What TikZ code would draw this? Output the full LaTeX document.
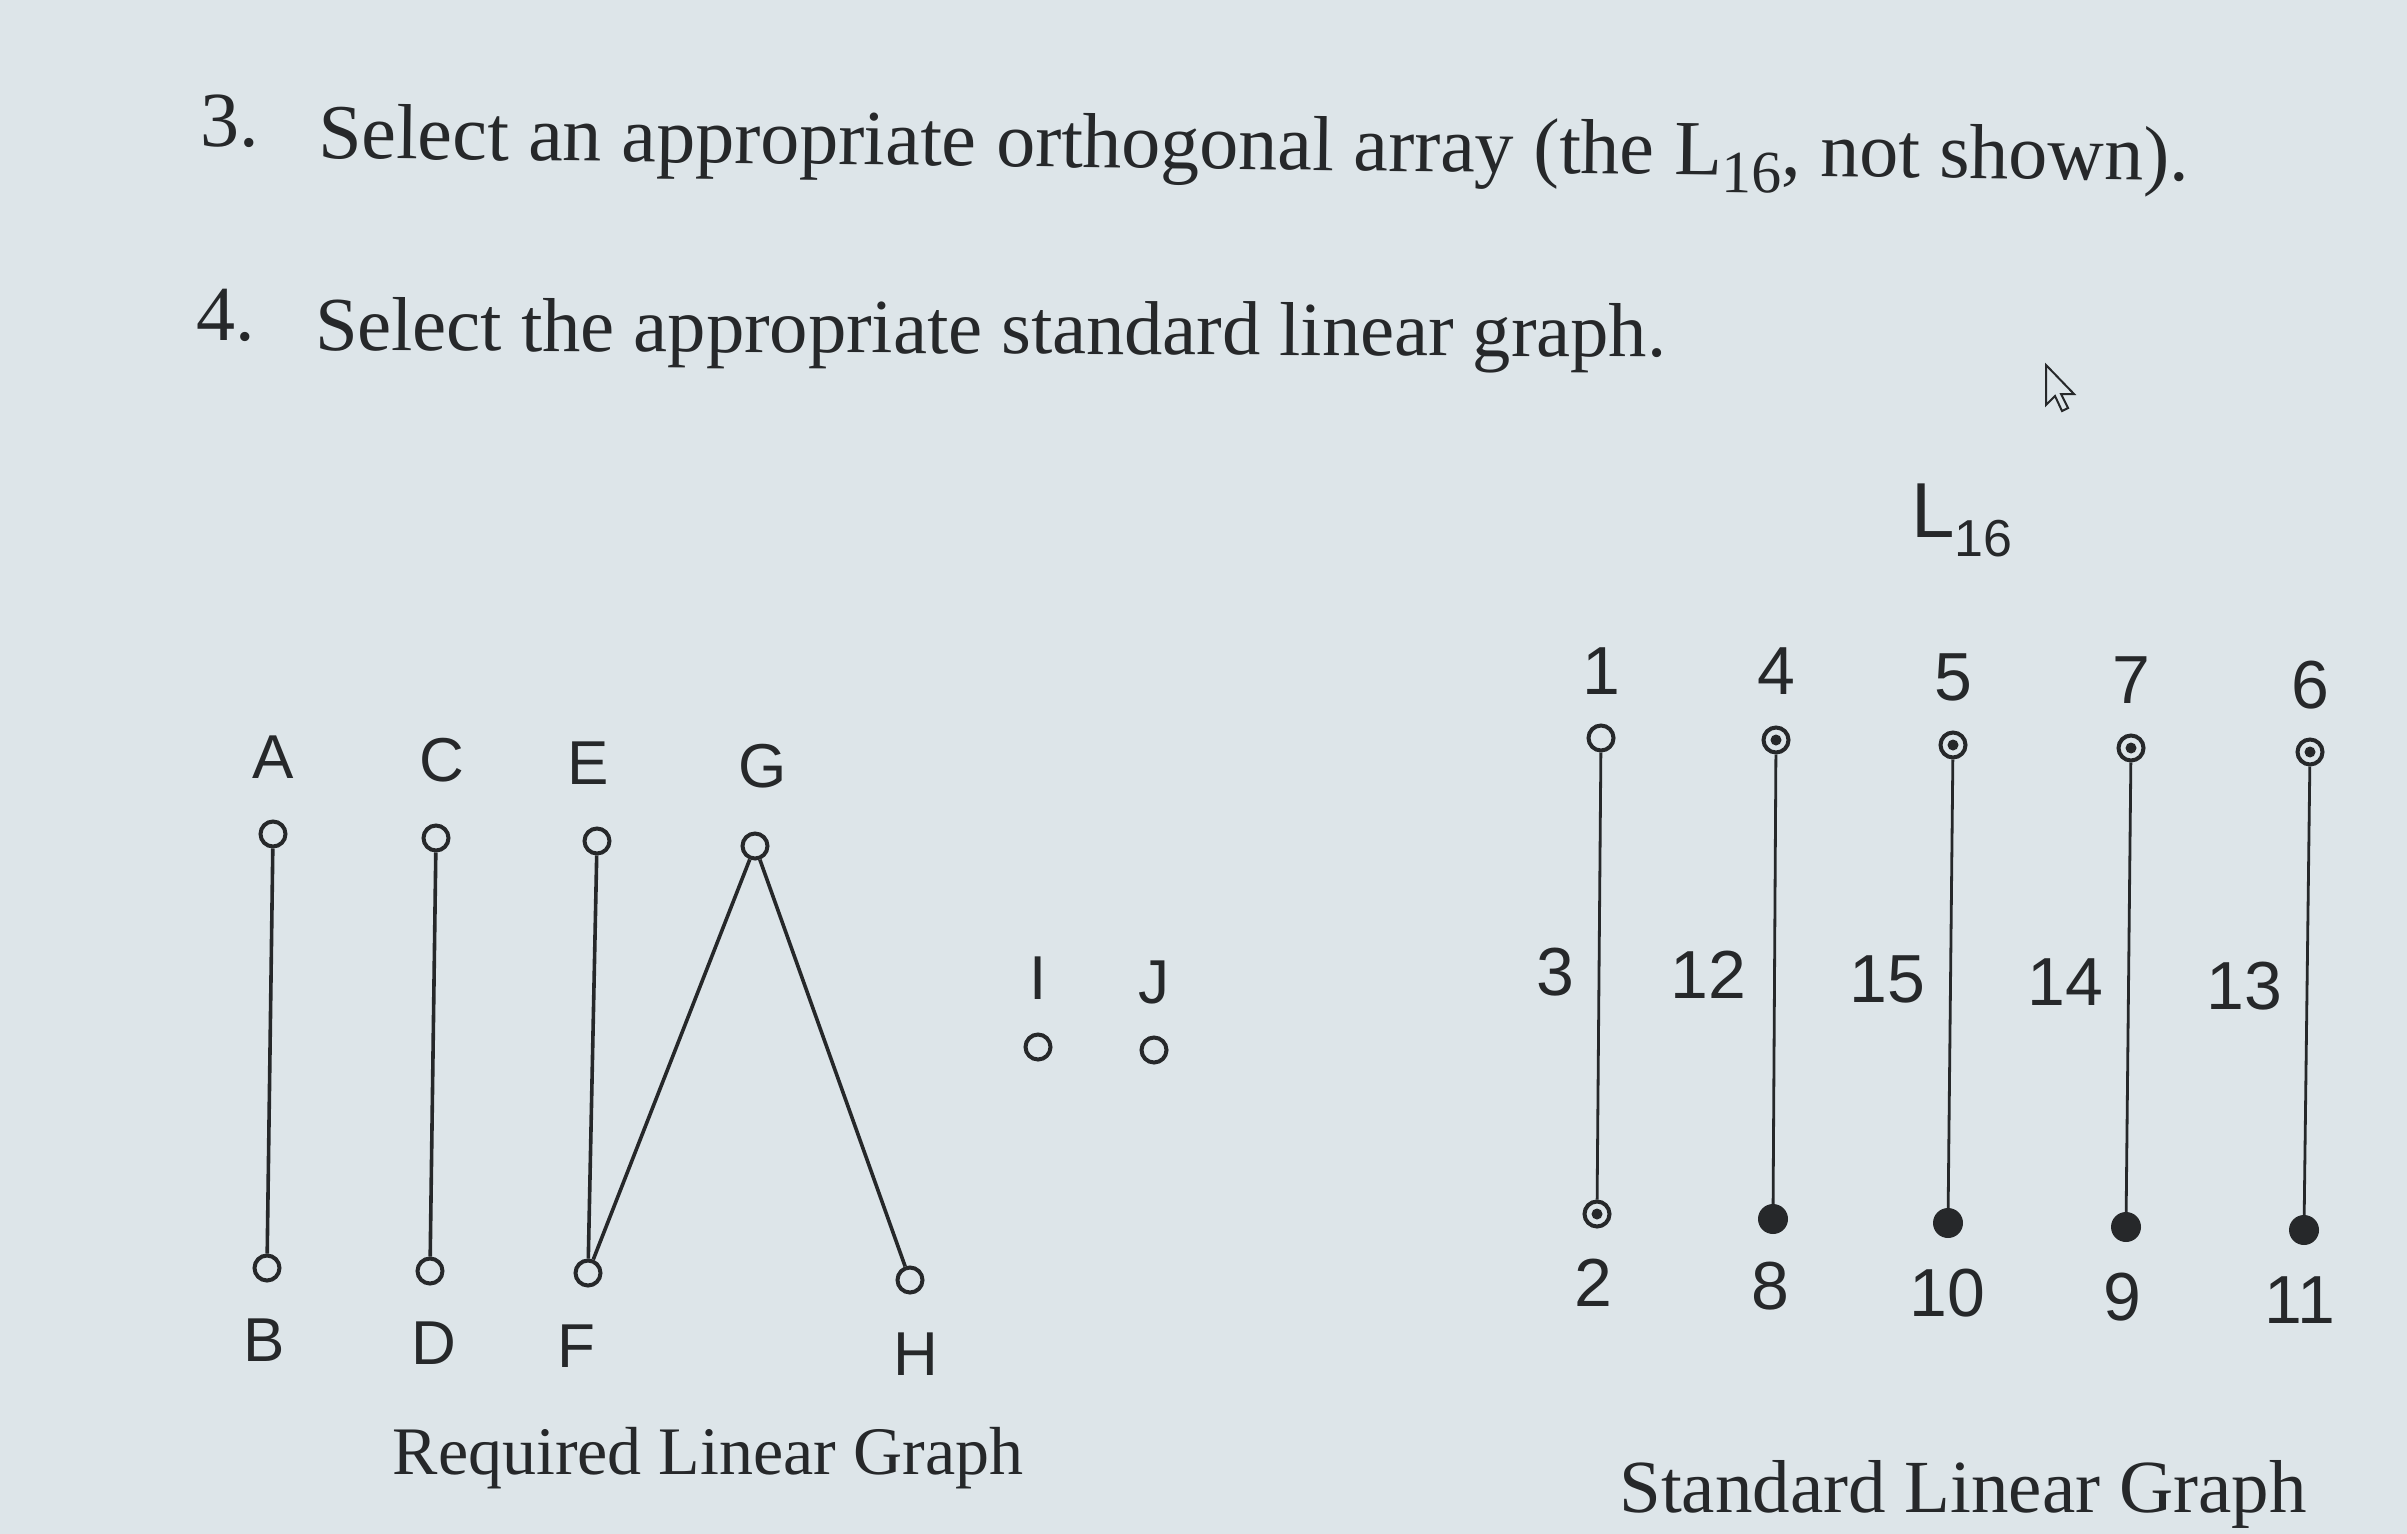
\documentclass[tikz,border=0pt]{standalone}
\usepackage{fontspec}
\setmainfont{Liberation Serif}
\newfontfamily\lsans{Liberation Sans}
\definecolor{bg}{RGB}{221,229,233}
\definecolor{ink}{RGB}{38,40,42}
\begin{document}
\begin{tikzpicture}[x=1pt,y=-1pt,
  headtxt/.style={font=\fontsize{78}{90}\selectfont, text=ink, inner sep=0, anchor=base west},
  captxt/.style={font=\fontsize{68}{80}\selectfont, text=ink, inner sep=0, anchor=base},
  letter/.style={font=\lsans\fontsize{62}{62}\selectfont, text=ink, inner sep=0},
  numtxt/.style={font=\lsans\fontsize{68}{68}\selectfont, text=ink, inner sep=0},
  opn/.style={circle, draw=ink, line width=4pt, fill=bg, minimum size=25pt, inner sep=0},
  dotn/.style={opn, path picture={\fill[ink] (path picture bounding box.center) circle (5.5pt);}},
  filledn/.style={circle, fill=ink, minimum size=30pt, inner sep=0},
  lnk/.style={draw=ink, line width=3.6pt},
  slnk/.style={draw=ink, line width=2.8pt},
]
\fill[bg] (0,0) rectangle (2407,1534);
\useasboundingbox (0,0) rectangle (2407,1534);

% headings
\node[headtxt] (h3n) at (200,146) {3.};
\node[headtxt, rotate=-0.7] (h3) at (318,158) {Select an appropriate orthogonal array (the L\raisebox{-0.22em}{\fontsize{60}{60}\selectfont 16}, not shown).};
\node[headtxt] (h4n) at (196,340) {4.};
\node[headtxt, font=\fontsize{76.5}{90}\selectfont, rotate=-0.3] (h4) at (315,350) {Select the appropriate standard linear graph.};

% cursor
\draw[ink, line width=2pt, fill=bg, line join=miter] (2046,365) -- ++(0,40) -- ++(9,-9) -- ++(7,15) -- ++(6,-3) -- ++(-7,-14) -- ++(13,0) -- cycle;

% required linear graph
\node[opn] (A) at (273,834) {};
\node[opn] (B) at (267,1268) {};
\node[opn] (C) at (436,838) {};
\node[opn] (D) at (430,1271) {};
\node[opn] (E) at (597,841) {};
\node[opn] (F) at (588,1273) {};
\node[opn] (G) at (755,846) {};
\node[opn] (H) at (910,1280) {};
\node[opn] (I) at (1038,1047) {};
\node[opn] (J) at (1154,1050) {};
\draw[lnk] (A) -- (B);
\draw[lnk] (C) -- (D);
\draw[lnk] (E) -- (F);
\draw[lnk] (F) -- (G);
\draw[lnk] (G) -- (H);
\node[letter] (lA) at (273,757) {A};
\node[letter] (lC) at (442,760) {C};
\node[letter] (lE) at (588,763) {E};
\node[letter] (lG) at (763,766) {G};
\node[letter] (lB) at (264,1340) {B};
\node[letter] (lD) at (434,1343) {D};
\node[letter] (lF) at (576,1346) {F};
\node[letter] (lH) at (916,1354) {H};
\node[letter] (lI) at (1038,978) {I};
\node[letter] (lJ) at (1154,982) {J};
\node[captxt] (req) at (708,1474) {Required Linear Graph};

% standard linear graph
\node[font=\lsans\fontsize{78}{78}\selectfont, text=ink, inner sep=0, anchor=base west] (l16) at (1911,537) {L\raisebox{-0.25em}{\fontsize{52}{52}\selectfont 16}};

\node[opn]  (n1) at (1601,738) {};
\node[dotn] (n4) at (1776,740) {};
\node[dotn] (n5) at (1953,745) {};
\node[dotn] (n7) at (2131,748) {};
\node[dotn] (n6) at (2310,752) {};
\node[dotn] (n2) at (1597,1214) {};
\node[filledn] (n8) at (1773,1219) {};
\node[filledn] (n10) at (1948,1223) {};
\node[filledn] (n9) at (2126,1227) {};
\node[filledn] (n11) at (2304,1230) {};
\draw[slnk] (n1) -- (n2);
\draw[slnk] (n4) -- (n8);
\draw[slnk] (n5) -- (n10);
\draw[slnk] (n7) -- (n9);
\draw[slnk] (n6) -- (n11);

\node[numtxt] (t1) at (1601,671) {1};
\node[numtxt] (t4) at (1776,671) {4};
\node[numtxt] (t5) at (1953,677) {5};
\node[numtxt] (t7) at (2131,680) {7};
\node[numtxt] (t6) at (2310,685) {6};
\node[numtxt] (t2) at (1593,1283) {2};
\node[numtxt] (t8) at (1770,1286) {8};
\node[numtxt] (t10) at (1947,1293) {10};
\node[numtxt] (t9) at (2122,1297) {9};
\node[numtxt] (t11) at (2300,1300) {11};
\node[numtxt] (e3) at (1555,972) {3};
\node[numtxt] (e12) at (1708,975) {12};
\node[numtxt] (e15) at (1887,979) {15};
\node[numtxt] (e14) at (2065,982) {14};
\node[numtxt] (e13) at (2244,986) {13};
\node[captxt, font=\fontsize{75}{80}\selectfont] (std) at (1963,1512) {Standard Linear Graph};
\end{tikzpicture}
\end{document}
